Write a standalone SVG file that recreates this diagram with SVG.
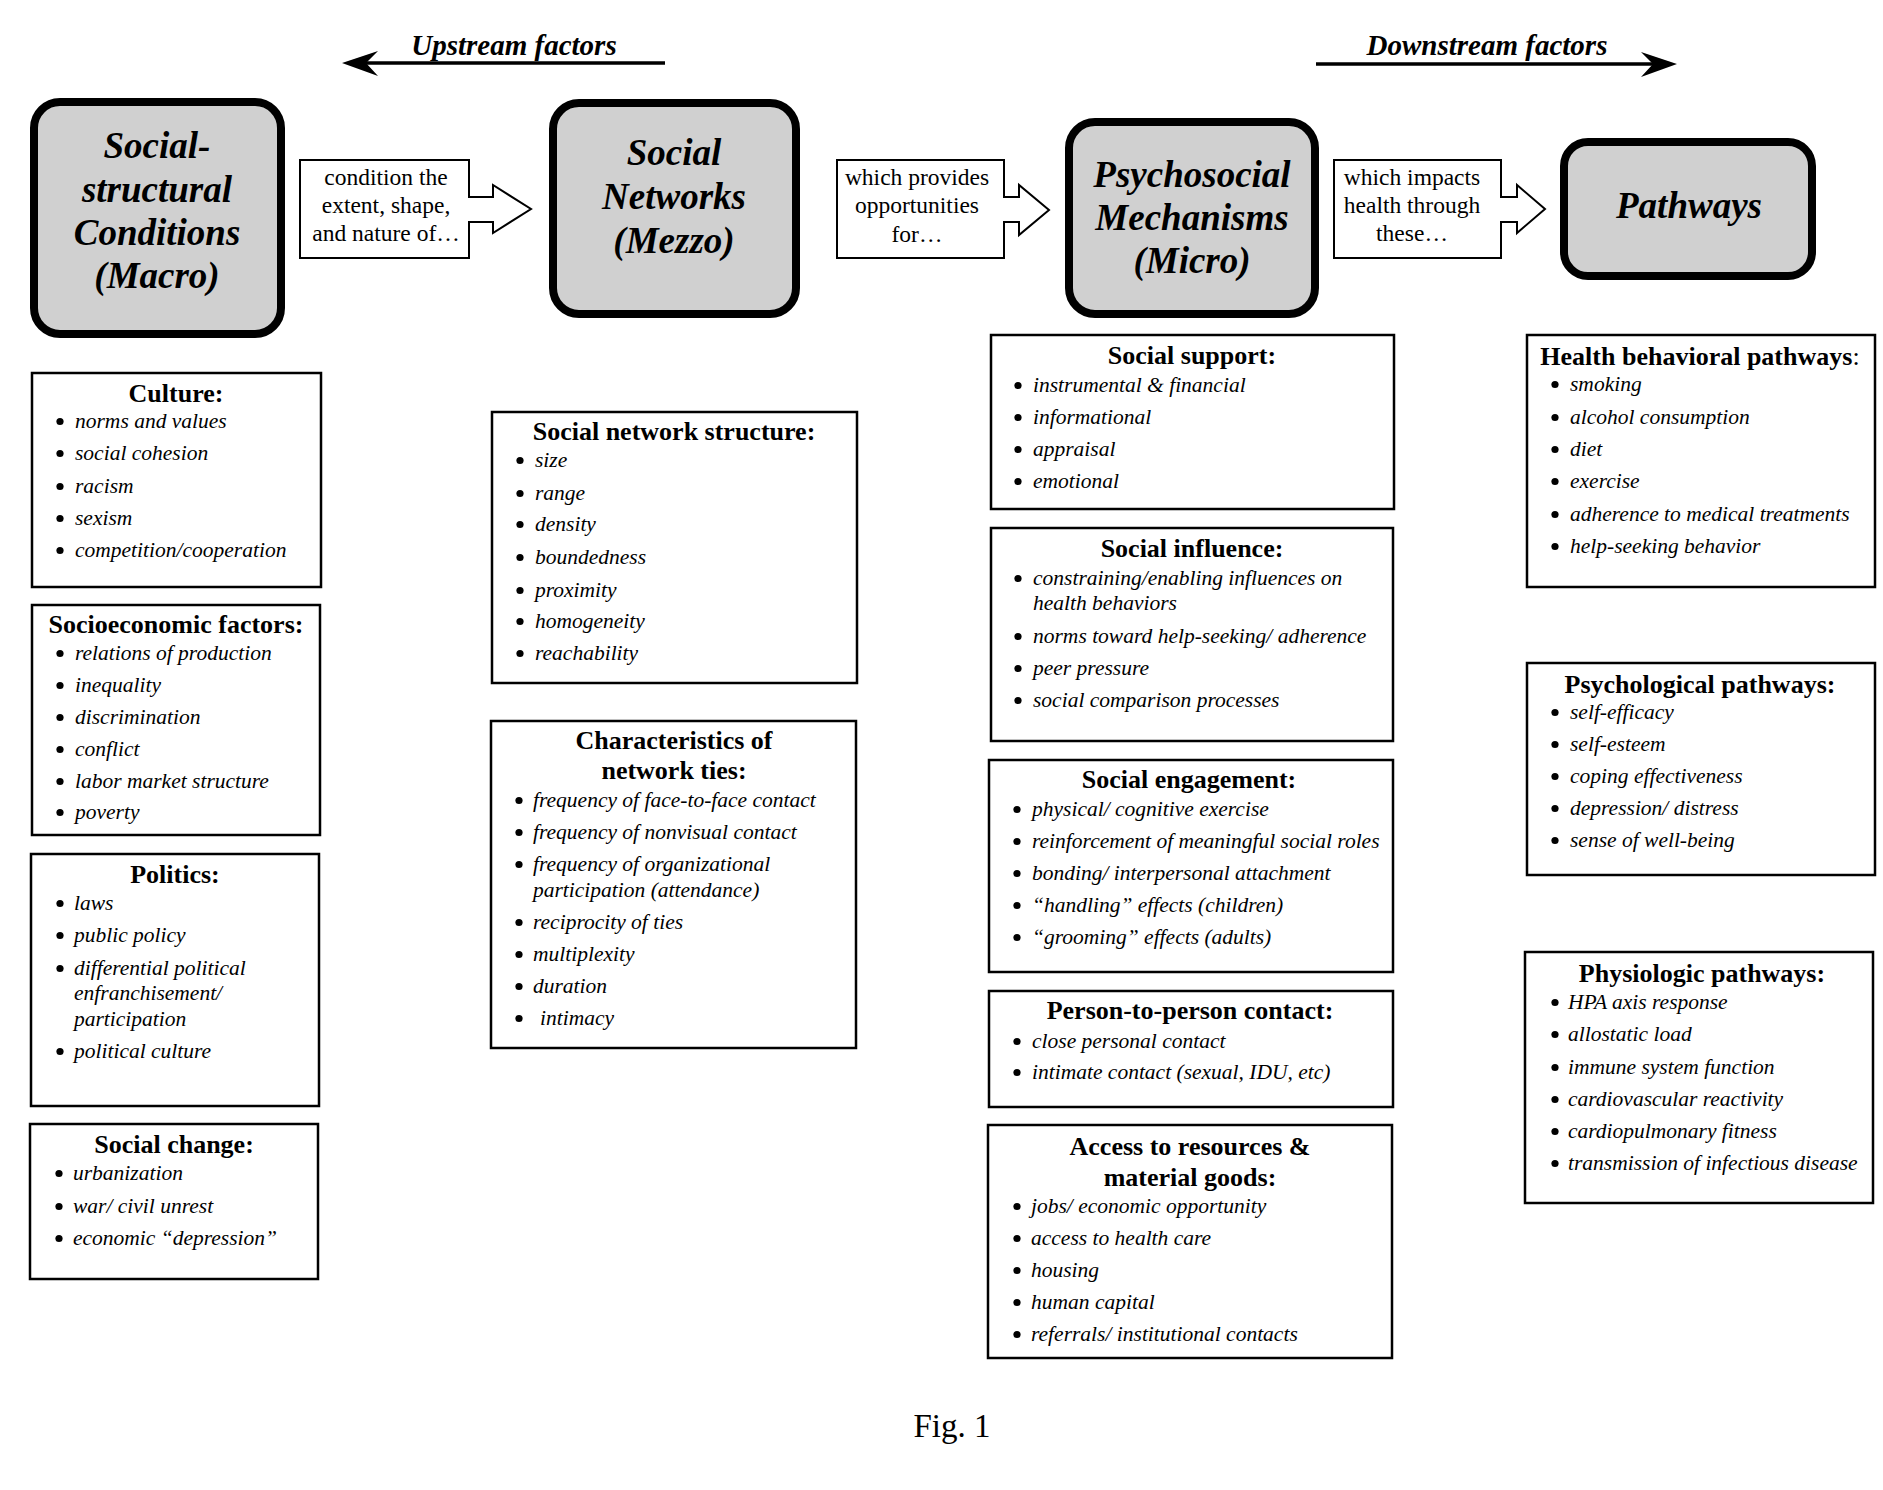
<svg xmlns="http://www.w3.org/2000/svg" width="1883" height="1490" viewBox="0 0 1883 1490">
<style>
text{font-family:"Liberation Serif","Times New Roman",serif;fill:#000}
.big{stroke:#000;stroke-width:8;fill:#d0d0d0}
.bh{font-size:37px;font-weight:bold;font-style:italic;text-anchor:middle}
.conn{stroke:#000;stroke-width:2;fill:#fff}
.ct{font-size:23.5px;text-anchor:middle}
.box{stroke:#000;stroke-width:2.5;fill:#fff}
.ti{font-size:26px;font-weight:bold;text-anchor:middle}
.it{font-size:21.5px;font-style:italic}
.d{fill:#000}
.fl{font-size:29px;font-weight:bold;font-style:italic;text-anchor:middle}
</style>
<rect width="1883" height="1490" fill="#fff"/>

<g id="flow-labels">
<text class="fl" x="514" y="55">Upstream factors</text>
<line x1="362" y1="63" x2="665" y2="63" stroke="#000" stroke-width="3.5"/>
<polygon points="342,63 378,51 366,63 378,76" fill="#000"/>
<text class="fl" x="1487" y="55">Downstream factors</text>
<line x1="1316" y1="64" x2="1660" y2="64" stroke="#000" stroke-width="3.5"/>
<polygon points="1677,64 1641,52 1653,64 1641,77" fill="#000"/>
</g>

<g id="macro">
<rect class="big" x="34" y="102" width="247" height="232" rx="26"/>
<text class="bh" x="157" y="158">Social-</text>
<text class="bh" x="157" y="202">structural</text>
<text class="bh" x="157" y="245">Conditions</text>
<text class="bh" x="157" y="288">(Macro)</text>
</g>

<g id="mezzo">
<rect class="big" x="553" y="103" width="243" height="211" rx="26"/>
<text class="bh" x="674" y="165">Social</text>
<text class="bh" x="674" y="209">Networks</text>
<text class="bh" x="674" y="253">(Mezzo)</text>
</g>

<g id="micro">
<rect class="big" x="1069" y="122" width="246" height="192" rx="26"/>
<text class="bh" x="1192" y="187">Psychosocial</text>
<text class="bh" x="1192" y="230">Mechanisms</text>
<text class="bh" x="1192" y="273">(Micro)</text>
</g>

<g id="pathways">
<rect class="big" x="1564" y="142" width="248" height="134" rx="24"/>
<text class="bh" x="1689" y="218">Pathways</text>
</g>

<g id="connectors">
<g id="conn1">
<polygon class="conn" points="300,160 469,160 469,197 493,197 493,185 531,209 493,233 493,222 469,222 469,258 300,258"/>
<text class="ct" x="386" y="185">condition the</text>
<text class="ct" x="386" y="213">extent, shape,</text>
<text class="ct" x="386" y="241">and nature of…</text>
</g>
<g id="conn2">
<polygon class="conn" points="837,160 1004,160 1004,197 1019,197 1019,185 1049,210 1019,235 1019,222 1004,222 1004,258 837,258"/>
<text class="ct" x="917" y="185">which provides</text>
<text class="ct" x="917" y="213">opportunities</text>
<text class="ct" x="917" y="242">for…</text>
</g>
<g id="conn3">
<polygon class="conn" points="1334,160 1501,160 1501,197 1517,197 1517,185 1545,209 1517,233 1517,222 1501,222 1501,258 1334,258"/>
<text class="ct" x="1412" y="185">which impacts</text>
<text class="ct" x="1412" y="213">health through</text>
<text class="ct" x="1412" y="241">these…</text>
</g>
</g>

<g id="culture">
<rect class="box" x="32" y="373" width="289" height="214"/>
<text class="ti" x="176" y="402">Culture:</text>
<circle class="d" cx="60" cy="421.5" r="3.6"/><text class="it" x="75" y="428">norms and values</text>
<circle class="d" cx="60" cy="453.5" r="3.6"/><text class="it" x="75" y="460">social cohesion</text>
<circle class="d" cx="60" cy="486.5" r="3.6"/><text class="it" x="75" y="493">racism</text>
<circle class="d" cx="60" cy="518.5" r="3.6"/><text class="it" x="75" y="525">sexism</text>
<circle class="d" cx="60" cy="550.5" r="3.6"/><text class="it" x="75" y="557">competition/cooperation</text>
</g>

<g id="socioeconomic">
<rect class="box" x="32" y="605" width="288" height="230"/>
<text class="ti" x="176" y="633">Socioeconomic factors:</text>
<circle class="d" cx="60" cy="653.5" r="3.6"/><text class="it" x="75" y="660">relations of production</text>
<circle class="d" cx="60" cy="685.5" r="3.6"/><text class="it" x="75" y="692">inequality</text>
<circle class="d" cx="60" cy="717.5" r="3.6"/><text class="it" x="75" y="724">discrimination</text>
<circle class="d" cx="60" cy="749.5" r="3.6"/><text class="it" x="75" y="756">conflict</text>
<circle class="d" cx="60" cy="781.5" r="3.6"/><text class="it" x="75" y="788">labor market structure</text>
<circle class="d" cx="60" cy="812.5" r="3.6"/><text class="it" x="75" y="819">poverty</text>
</g>

<g id="politics">
<rect class="box" x="31" y="854" width="288" height="252"/>
<text class="ti" x="175" y="883">Politics:</text>
<circle class="d" cx="60" cy="903.5" r="3.6"/><text class="it" x="74" y="910">laws</text>
<circle class="d" cx="60" cy="935.5" r="3.6"/><text class="it" x="74" y="942">public policy</text>
<circle class="d" cx="60" cy="968.5" r="3.6"/><text class="it" x="74" y="975">differential political</text>
<text class="it" x="74" y="1000">enfranchisement/</text>
<text class="it" x="74" y="1026">participation</text>
<circle class="d" cx="60" cy="1051.5" r="3.6"/><text class="it" x="74" y="1058">political culture</text>
</g>

<g id="social-change">
<rect class="box" x="30" y="1124" width="288" height="155"/>
<text class="ti" x="174" y="1153">Social change:</text>
<circle class="d" cx="59" cy="1173.5" r="3.6"/><text class="it" x="73" y="1180">urbanization</text>
<circle class="d" cx="59" cy="1206.5" r="3.6"/><text class="it" x="73" y="1213">war/ civil unrest</text>
<circle class="d" cx="59" cy="1238.5" r="3.6"/><text class="it" x="73" y="1245">economic “depression”</text>
</g>

<g id="network-structure">
<rect class="box" x="492" y="412" width="365" height="271"/>
<text class="ti" x="674" y="440">Social network structure:</text>
<circle class="d" cx="520" cy="460.5" r="3.6"/><text class="it" x="535" y="467">size</text>
<circle class="d" cx="520" cy="493.5" r="3.6"/><text class="it" x="535" y="500">range</text>
<circle class="d" cx="520" cy="524.5" r="3.6"/><text class="it" x="535" y="531">density</text>
<circle class="d" cx="520" cy="557.5" r="3.6"/><text class="it" x="535" y="564">boundedness</text>
<circle class="d" cx="520" cy="590.5" r="3.6"/><text class="it" x="535" y="597">proximity</text>
<circle class="d" cx="520" cy="621.5" r="3.6"/><text class="it" x="535" y="628">homogeneity</text>
<circle class="d" cx="520" cy="653.5" r="3.6"/><text class="it" x="535" y="660">reachability</text>
</g>

<g id="network-ties">
<rect class="box" x="491" y="721" width="365" height="327"/>
<text class="ti" x="674" y="749">Characteristics of</text>
<text class="ti" x="674" y="779">network ties:</text>
<circle class="d" cx="519" cy="800.5" r="3.6"/><text class="it" x="533" y="807">frequency of face-to-face contact</text>
<circle class="d" cx="519" cy="832.5" r="3.6"/><text class="it" x="533" y="839">frequency of nonvisual contact</text>
<circle class="d" cx="519" cy="864.5" r="3.6"/><text class="it" x="533" y="871">frequency of organizational</text>
<text class="it" x="533" y="897">participation (attendance)</text>
<circle class="d" cx="519" cy="922.5" r="3.6"/><text class="it" x="533" y="929">reciprocity of ties</text>
<circle class="d" cx="519" cy="954.5" r="3.6"/><text class="it" x="533" y="961">multiplexity</text>
<circle class="d" cx="519" cy="986.5" r="3.6"/><text class="it" x="533" y="993">duration</text>
<circle class="d" cx="519" cy="1018.5" r="3.6"/><text class="it" x="540" y="1025">intimacy</text>
</g>

<g id="social-support">
<rect class="box" x="991" y="335" width="403" height="174"/>
<text class="ti" x="1192" y="364">Social support:</text>
<circle class="d" cx="1018" cy="385.5" r="3.6"/><text class="it" x="1033" y="392">instrumental &amp; financial</text>
<circle class="d" cx="1018" cy="417.5" r="3.6"/><text class="it" x="1033" y="424">informational</text>
<circle class="d" cx="1018" cy="449.5" r="3.6"/><text class="it" x="1033" y="456">appraisal</text>
<circle class="d" cx="1018" cy="481.5" r="3.6"/><text class="it" x="1033" y="488">emotional</text>
</g>

<g id="social-influence">
<rect class="box" x="991" y="528" width="402" height="213"/>
<text class="ti" x="1192" y="557">Social influence:</text>
<circle class="d" cx="1018" cy="578.5" r="3.6"/><text class="it" x="1033" y="585">constraining/enabling influences on</text>
<text class="it" x="1033" y="610">health behaviors</text>
<circle class="d" cx="1018" cy="636.5" r="3.6"/><text class="it" x="1033" y="643">norms toward help-seeking/ adherence</text>
<circle class="d" cx="1018" cy="668.5" r="3.6"/><text class="it" x="1033" y="675">peer pressure</text>
<circle class="d" cx="1018" cy="700.5" r="3.6"/><text class="it" x="1033" y="707">social comparison processes</text>
</g>

<g id="social-engagement">
<rect class="box" x="989" y="760" width="404" height="212"/>
<text class="ti" x="1189" y="788">Social engagement:</text>
<circle class="d" cx="1017" cy="809.5" r="3.6"/><text class="it" x="1032" y="816">physical/ cognitive exercise</text>
<circle class="d" cx="1017" cy="841.5" r="3.6"/><text class="it" x="1032" y="848">reinforcement of meaningful social roles</text>
<circle class="d" cx="1017" cy="873.5" r="3.6"/><text class="it" x="1032" y="880">bonding/ interpersonal attachment</text>
<circle class="d" cx="1017" cy="905.5" r="3.6"/><text class="it" x="1032" y="912">“handling” effects (children)</text>
<circle class="d" cx="1017" cy="937.5" r="3.6"/><text class="it" x="1032" y="944">“grooming” effects (adults)</text>
</g>

<g id="person-contact">
<rect class="box" x="989" y="991" width="404" height="116"/>
<text class="ti" x="1190" y="1019">Person-to-person contact:</text>
<circle class="d" cx="1017" cy="1041.5" r="3.6"/><text class="it" x="1032" y="1048">close personal contact</text>
<circle class="d" cx="1017" cy="1072.5" r="3.6"/><text class="it" x="1032" y="1079">intimate contact (sexual, IDU, etc)</text>
</g>

<g id="access-resources">
<rect class="box" x="988" y="1125" width="404" height="233"/>
<text class="ti" x="1190" y="1155">Access to resources &amp;</text>
<text class="ti" x="1190" y="1186">material goods:</text>
<circle class="d" cx="1017" cy="1206.5" r="3.6"/><text class="it" x="1031" y="1213">jobs/ economic opportunity</text>
<circle class="d" cx="1017" cy="1238.5" r="3.6"/><text class="it" x="1031" y="1245">access to health care</text>
<circle class="d" cx="1017" cy="1270.5" r="3.6"/><text class="it" x="1031" y="1277">housing</text>
<circle class="d" cx="1017" cy="1302.5" r="3.6"/><text class="it" x="1031" y="1309">human capital</text>
<circle class="d" cx="1017" cy="1334.5" r="3.6"/><text class="it" x="1031" y="1341">referrals/ institutional contacts</text>
</g>

<g id="health-behavioral">
<rect class="box" x="1527" y="335" width="348" height="252"/>
<text class="ti" x="1700" y="365">Health behavioral pathways<tspan font-weight="normal">:</tspan></text>
<circle class="d" cx="1555" cy="384.5" r="3.6"/><text class="it" x="1570" y="391">smoking</text>
<circle class="d" cx="1555" cy="417.5" r="3.6"/><text class="it" x="1570" y="424">alcohol consumption</text>
<circle class="d" cx="1555" cy="449.5" r="3.6"/><text class="it" x="1570" y="456">diet</text>
<circle class="d" cx="1555" cy="481.5" r="3.6"/><text class="it" x="1570" y="488">exercise</text>
<circle class="d" cx="1555" cy="514.5" r="3.6"/><text class="it" x="1570" y="521">adherence to medical treatments</text>
<circle class="d" cx="1555" cy="546.5" r="3.6"/><text class="it" x="1570" y="553">help-seeking behavior</text>
</g>

<g id="psychological">
<rect class="box" x="1527" y="663" width="348" height="212"/>
<text class="ti" x="1700" y="693">Psychological pathways:</text>
<circle class="d" cx="1555" cy="712.5" r="3.6"/><text class="it" x="1570" y="719">self-efficacy</text>
<circle class="d" cx="1555" cy="744.5" r="3.6"/><text class="it" x="1570" y="751">self-esteem</text>
<circle class="d" cx="1555" cy="776.5" r="3.6"/><text class="it" x="1570" y="783">coping effectiveness</text>
<circle class="d" cx="1555" cy="808.5" r="3.6"/><text class="it" x="1570" y="815">depression/ distress</text>
<circle class="d" cx="1555" cy="840.5" r="3.6"/><text class="it" x="1570" y="847">sense of well-being</text>
</g>

<g id="physiologic">
<rect class="box" x="1525" y="952" width="348" height="251"/>
<text class="ti" x="1702" y="982">Physiologic pathways:</text>
<circle class="d" cx="1555" cy="1002.5" r="3.6"/><text class="it" x="1568" y="1009">HPA axis response</text>
<circle class="d" cx="1555" cy="1034.5" r="3.6"/><text class="it" x="1568" y="1041">allostatic load</text>
<circle class="d" cx="1555" cy="1067.5" r="3.6"/><text class="it" x="1568" y="1074">immune system function</text>
<circle class="d" cx="1555" cy="1099.5" r="3.6"/><text class="it" x="1568" y="1106">cardiovascular reactivity</text>
<circle class="d" cx="1555" cy="1131.5" r="3.6"/><text class="it" x="1568" y="1138">cardiopulmonary fitness</text>
<circle class="d" cx="1555" cy="1163.5" r="3.6"/><text class="it" x="1568" y="1170">transmission of infectious disease</text>
</g>

<g id="caption">
<text x="952" y="1437" font-size="33" text-anchor="middle">Fig. 1</text>
</g>
</svg>
